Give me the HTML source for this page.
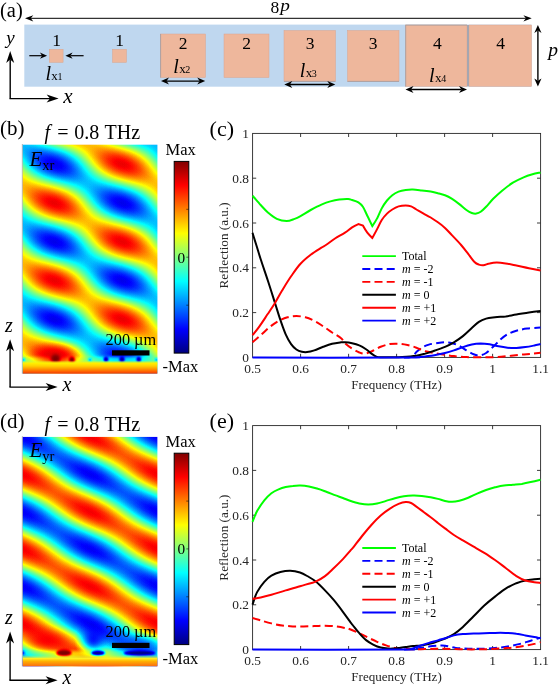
<!DOCTYPE html><html><head><meta charset="utf-8"><title>Figure</title><style>html,body{margin:0;padding:0;background:#fff;overflow:hidden}svg{display:block}</style></head><body><svg width="560" height="685" viewBox="0 0 560 685" font-family='"Liberation Serif","Times New Roman",serif'><rect x="24.3" y="24.6" width="507.2" height="62.1" fill="#bfd7ef"/>
<rect x="49.3" y="49.3" width="13.8" height="13.1" fill="#eeb79c" stroke="#d9a58f" stroke-width="0.5"/>
<rect x="112.5" y="49.3" width="14.0" height="13.1" fill="#eeb79c" stroke="#d9a58f" stroke-width="0.5"/>
<rect x="160.5" y="34.0" width="45.0" height="43.5" fill="#eeb79c" stroke="#d9a58f" stroke-width="0.5"/>
<rect x="224.0" y="34.0" width="45.0" height="43.5" fill="#eeb79c" stroke="#d9a58f" stroke-width="0.5"/>
<rect x="284.0" y="30.5" width="51.5" height="51.0" fill="#eeb79c" stroke="#d9a58f" stroke-width="0.5"/>
<rect x="347.5" y="30.5" width="51.5" height="51.0" fill="#eeb79c" stroke="#d9a58f" stroke-width="0.5"/>
<rect x="405.5" y="25.0" width="61.5" height="61.3" fill="#eeb79c" stroke="#d9a58f" stroke-width="0.5"/>
<rect x="469.0" y="25.0" width="62.5" height="61.3" fill="#eeb79c" stroke="#d9a58f" stroke-width="0.5"/>
<path d="M160.6 34v43.5M284 81.4h51.5M347.5 81.4h51.5M405.7 86.3V25.1h61.3" stroke="#9a9aa0" stroke-width="0.7" fill="none"/><path d="M468 25v61.3" stroke="#a2a2ac" stroke-width="1.8"/>
<text x="56.50" y="46.40" font-size="17.50" text-anchor="middle" fill="#000">1</text>
<text x="119.50" y="46.40" font-size="17.50" text-anchor="middle" fill="#000">1</text>
<text x="183.00" y="49.30" font-size="17.50" text-anchor="middle" fill="#000">2</text>
<text x="246.50" y="49.30" font-size="17.50" text-anchor="middle" fill="#000">2</text>
<text x="310.00" y="49.30" font-size="17.50" text-anchor="middle" fill="#000">3</text>
<text x="373.00" y="49.30" font-size="17.50" text-anchor="middle" fill="#000">3</text>
<text x="437.40" y="49.30" font-size="17.50" text-anchor="middle" fill="#000">4</text>
<text x="500.60" y="49.30" font-size="17.50" text-anchor="middle" fill="#000">4</text>
<line x1="30.80" y1="18.30" x2="525.90" y2="18.30" stroke="#000" stroke-width="1.00"/><path d="M531.70 18.30L523.40 15.20L525.90 18.30L523.40 21.40Z" fill="#000"/><path d="M25.00 18.30L33.30 21.40L30.80 18.30L33.30 15.20Z" fill="#000"/>
<text x="270.60" y="13.20" font-size="17.50" text-anchor="start" fill="#000">8</text>
<text x="280.30" y="11.00" font-size="17.30" text-anchor="start" font-style="italic" fill="#000" textLength="9.6" lengthAdjust="spacingAndGlyphs">p</text>
<line x1="537.90" y1="30.60" x2="537.90" y2="80.80" stroke="#000" stroke-width="1.40"/><path d="M537.90 86.40L541.50 78.40L537.90 80.80L534.30 78.40Z" fill="#000"/><path d="M537.90 25.00L534.30 33.00L537.90 30.60L541.50 33.00Z" fill="#000"/>
<text x="548.30" y="56.00" font-size="19.50" text-anchor="start" font-style="italic" fill="#000">p</text>
<line x1="29.30" y1="55.70" x2="42.10" y2="55.70" stroke="#000" stroke-width="1.20"/><path d="M47.10 55.70L39.90 52.60L42.10 55.70L39.90 58.80Z" fill="#000"/>
<line x1="83.60" y1="55.70" x2="70.40" y2="55.70" stroke="#000" stroke-width="1.20"/><path d="M65.40 55.70L72.60 58.80L70.40 55.70L72.60 52.60Z" fill="#000"/>
<line x1="166.60" y1="81.10" x2="199.60" y2="81.10" stroke="#000" stroke-width="1.30"/><path d="M205.20 81.10L197.20 77.60L199.60 81.10L197.20 84.60Z" fill="#000"/><path d="M161.00 81.10L169.00 84.60L166.60 81.10L169.00 77.60Z" fill="#000"/>
<line x1="289.90" y1="84.50" x2="329.70" y2="84.50" stroke="#000" stroke-width="1.30"/><path d="M335.30 84.50L327.30 81.00L329.70 84.50L327.30 88.00Z" fill="#000"/><path d="M284.30 84.50L292.30 88.00L289.90 84.50L292.30 81.00Z" fill="#000"/>
<line x1="411.10" y1="89.50" x2="461.40" y2="89.50" stroke="#000" stroke-width="1.30"/><path d="M467.00 89.50L459.00 86.00L461.40 89.50L459.00 93.00Z" fill="#000"/><path d="M405.50 89.50L413.50 93.00L411.10 89.50L413.50 86.00Z" fill="#000"/>
<text x="45.5" y="80.0" font-size="20"><tspan font-style="italic">l</tspan><tspan font-size="13" dx="0.3">x</tspan><tspan font-size="10" dx="-0.3">1</tspan></text>
<text x="173.3" y="72.9" font-size="20"><tspan font-style="italic">l</tspan><tspan font-size="13" dx="0.3">x</tspan><tspan font-size="10" dx="-0.3">2</tspan></text>
<text x="299.8" y="77.0" font-size="20"><tspan font-style="italic">l</tspan><tspan font-size="13" dx="0.3">x</tspan><tspan font-size="10" dx="-0.3">3</tspan></text>
<text x="429.1" y="81.9" font-size="20"><tspan font-style="italic">l</tspan><tspan font-size="13" dx="0.3">x</tspan><tspan font-size="10" dx="-0.3">4</tspan></text>
<text x="6.20" y="44.00" font-size="19.00" text-anchor="start" font-style="italic" fill="#000">y</text>
<line x1="10.20" y1="98.60" x2="10.20" y2="59.60" stroke="#000" stroke-width="1.40"/><path d="M10.20 51.00L6.20 63.00L10.20 59.60L14.20 63.00Z" fill="#000"/>
<line x1="9.50" y1="98.60" x2="50.00" y2="98.60" stroke="#000" stroke-width="1.40"/><path d="M58.60 98.60L46.60 94.60L50.00 98.60L46.60 102.60Z" fill="#000"/>
<text x="63.30" y="102.90" font-size="21.00" text-anchor="start" font-style="italic" fill="#000">x</text>
<text x="0.00" y="17.30" font-size="20.50" text-anchor="start" fill="#000">(a)</text>
<defs>
<filter id="jet" x="0" y="0" width="1" height="1" color-interpolation-filters="sRGB"><feComponentTransfer><feFuncR type="table" tableValues="0 0 0 0 .5 1 1 1 .5"/><feFuncG type="table" tableValues="0 0 .5 1 1 1 .5 0 0"/><feFuncB type="table" tableValues=".5 1 1 1 .5 0 0 0 0"/></feComponentTransfer></filter>
<filter id="bl2" x="-50%" y="-50%" width="200%" height="200%"><feGaussianBlur stdDeviation="1.6"/></filter>
<filter id="bl1" x="-50%" y="-50%" width="200%" height="200%"><feGaussianBlur stdDeviation="0.9"/></filter>
<filter id="bl4" x="-50%" y="-50%" width="200%" height="200%"><feGaussianBlur stdDeviation="4"/></filter>
<linearGradient id="wb1" gradientUnits="userSpaceOnUse" x1="-7.245" y1="12.698" x2="26.158" y2="-45.843" spreadMethod="repeat"><stop offset="0.0000" stop-color="#e4e4e4"/><stop offset="0.0417" stop-color="#e1e1e1"/><stop offset="0.0833" stop-color="#d7d7d7"/><stop offset="0.1250" stop-color="#c7c7c7"/><stop offset="0.1667" stop-color="#b2b2b2"/><stop offset="0.2083" stop-color="#9a9a9a"/><stop offset="0.2500" stop-color="#808080"/><stop offset="0.2917" stop-color="#656565"/><stop offset="0.3333" stop-color="#4d4d4d"/><stop offset="0.3750" stop-color="#383838"/><stop offset="0.4167" stop-color="#282828"/><stop offset="0.4583" stop-color="#1e1e1e"/><stop offset="0.5000" stop-color="#1b1b1b"/><stop offset="0.5417" stop-color="#1e1e1e"/><stop offset="0.5833" stop-color="#282828"/><stop offset="0.6250" stop-color="#383838"/><stop offset="0.6667" stop-color="#4d4d4d"/><stop offset="0.7083" stop-color="#656565"/><stop offset="0.7500" stop-color="#7f7f7f"/><stop offset="0.7917" stop-color="#9a9a9a"/><stop offset="0.8333" stop-color="#b2b2b2"/><stop offset="0.8750" stop-color="#c7c7c7"/><stop offset="0.9167" stop-color="#d7d7d7"/><stop offset="0.9583" stop-color="#e1e1e1"/><stop offset="1.0000" stop-color="#e4e4e4"/></linearGradient>
<linearGradient id="wb2" gradientUnits="userSpaceOnUse" x1="0.418" y1="0.732" x2="-32.985" y2="-57.809" spreadMethod="repeat"><stop offset="0.0000" stop-color="#e4e4e4"/><stop offset="0.0417" stop-color="#e1e1e1"/><stop offset="0.0833" stop-color="#d7d7d7"/><stop offset="0.1250" stop-color="#c7c7c7"/><stop offset="0.1667" stop-color="#b2b2b2"/><stop offset="0.2083" stop-color="#9a9a9a"/><stop offset="0.2500" stop-color="#808080"/><stop offset="0.2917" stop-color="#656565"/><stop offset="0.3333" stop-color="#4d4d4d"/><stop offset="0.3750" stop-color="#383838"/><stop offset="0.4167" stop-color="#282828"/><stop offset="0.4583" stop-color="#1e1e1e"/><stop offset="0.5000" stop-color="#1b1b1b"/><stop offset="0.5417" stop-color="#1e1e1e"/><stop offset="0.5833" stop-color="#282828"/><stop offset="0.6250" stop-color="#383838"/><stop offset="0.6667" stop-color="#4d4d4d"/><stop offset="0.7083" stop-color="#656565"/><stop offset="0.7500" stop-color="#7f7f7f"/><stop offset="0.7917" stop-color="#9a9a9a"/><stop offset="0.8333" stop-color="#b2b2b2"/><stop offset="0.8750" stop-color="#c7c7c7"/><stop offset="0.9167" stop-color="#d7d7d7"/><stop offset="0.9583" stop-color="#e1e1e1"/><stop offset="1.0000" stop-color="#e4e4e4"/></linearGradient>
<linearGradient id="wd1" gradientUnits="userSpaceOnUse" x1="-5.891" y1="10.726" x2="25.629" y2="-46.661" spreadMethod="repeat"><stop offset="0.0000" stop-color="#e2e2e2"/><stop offset="0.0417" stop-color="#dedede"/><stop offset="0.0833" stop-color="#d5d5d5"/><stop offset="0.1250" stop-color="#c5c5c5"/><stop offset="0.1667" stop-color="#b1b1b1"/><stop offset="0.2083" stop-color="#999999"/><stop offset="0.2500" stop-color="#808080"/><stop offset="0.2917" stop-color="#666666"/><stop offset="0.3333" stop-color="#4e4e4e"/><stop offset="0.3750" stop-color="#3a3a3a"/><stop offset="0.4167" stop-color="#2a2a2a"/><stop offset="0.4583" stop-color="#212121"/><stop offset="0.5000" stop-color="#1d1d1d"/><stop offset="0.5417" stop-color="#212121"/><stop offset="0.5833" stop-color="#2a2a2a"/><stop offset="0.6250" stop-color="#3a3a3a"/><stop offset="0.6667" stop-color="#4e4e4e"/><stop offset="0.7083" stop-color="#666666"/><stop offset="0.7500" stop-color="#7f7f7f"/><stop offset="0.7917" stop-color="#999999"/><stop offset="0.8333" stop-color="#b1b1b1"/><stop offset="0.8750" stop-color="#c5c5c5"/><stop offset="0.9167" stop-color="#d5d5d5"/><stop offset="0.9583" stop-color="#dedede"/><stop offset="1.0000" stop-color="#e2e2e2"/></linearGradient>
<linearGradient id="wd2" gradientUnits="userSpaceOnUse" x1="16.091" y1="29.296" x2="-15.429" y2="-28.091" spreadMethod="repeat"><stop offset="0.0000" stop-color="#e2e2e2"/><stop offset="0.0417" stop-color="#dedede"/><stop offset="0.0833" stop-color="#d5d5d5"/><stop offset="0.1250" stop-color="#c5c5c5"/><stop offset="0.1667" stop-color="#b1b1b1"/><stop offset="0.2083" stop-color="#999999"/><stop offset="0.2500" stop-color="#808080"/><stop offset="0.2917" stop-color="#666666"/><stop offset="0.3333" stop-color="#4e4e4e"/><stop offset="0.3750" stop-color="#3a3a3a"/><stop offset="0.4167" stop-color="#2a2a2a"/><stop offset="0.4583" stop-color="#212121"/><stop offset="0.5000" stop-color="#1d1d1d"/><stop offset="0.5417" stop-color="#212121"/><stop offset="0.5833" stop-color="#2a2a2a"/><stop offset="0.6250" stop-color="#3a3a3a"/><stop offset="0.6667" stop-color="#4e4e4e"/><stop offset="0.7083" stop-color="#666666"/><stop offset="0.7500" stop-color="#7f7f7f"/><stop offset="0.7917" stop-color="#999999"/><stop offset="0.8333" stop-color="#b1b1b1"/><stop offset="0.8750" stop-color="#c5c5c5"/><stop offset="0.9167" stop-color="#d5d5d5"/><stop offset="0.9583" stop-color="#dedede"/><stop offset="1.0000" stop-color="#e2e2e2"/></linearGradient>
<linearGradient id="cb" x1="0" y1="0" x2="0" y2="1"><stop offset="0" stop-color="#800000"/><stop offset=".125" stop-color="#ff0000"/><stop offset=".375" stop-color="#ffff00"/><stop offset=".625" stop-color="#00ffff"/><stop offset=".875" stop-color="#0000ff"/><stop offset="1" stop-color="#000080"/></linearGradient>
<linearGradient id="band" x1="0" y1="0" x2="0" y2="1"><stop offset="0" stop-color="#d0f040" stop-opacity="0"/><stop offset=".2" stop-color="#fff200"/><stop offset=".42" stop-color="#ffd000"/><stop offset=".6" stop-color="#ffa000"/><stop offset=".85" stop-color="#ff5a00"/><stop offset="1" stop-color="#e03510"/></linearGradient>
<linearGradient id="bandd" x1="0" y1="0" x2="0" y2="1"><stop offset="0" stop-color="#c8f040" stop-opacity="0"/><stop offset=".3" stop-color="#fff020"/><stop offset=".55" stop-color="#ffb000"/><stop offset=".93" stop-color="#fa7410"/><stop offset="1" stop-color="#e85010"/></linearGradient>
<radialGradient id="rgR"><stop offset="0.0" stop-color="#e6e6e6" stop-opacity="1.000"/><stop offset="0.1" stop-color="#e6e6e6" stop-opacity="0.974"/><stop offset="0.2" stop-color="#e6e6e6" stop-opacity="0.899"/><stop offset="0.3" stop-color="#e6e6e6" stop-opacity="0.785"/><stop offset="0.4" stop-color="#e6e6e6" stop-opacity="0.648"/><stop offset="0.5" stop-color="#e6e6e6" stop-opacity="0.502"/><stop offset="0.6" stop-color="#e6e6e6" stop-opacity="0.362"/><stop offset="0.7" stop-color="#e6e6e6" stop-opacity="0.238"/><stop offset="0.8" stop-color="#e6e6e6" stop-opacity="0.136"/><stop offset="0.9" stop-color="#e6e6e6" stop-opacity="0.057"/><stop offset="1.0" stop-color="#e6e6e6" stop-opacity="0.000"/></radialGradient>
<radialGradient id="rgB"><stop offset="0.0" stop-color="#1a1a1a" stop-opacity="1.000"/><stop offset="0.1" stop-color="#1a1a1a" stop-opacity="0.974"/><stop offset="0.2" stop-color="#1a1a1a" stop-opacity="0.899"/><stop offset="0.3" stop-color="#1a1a1a" stop-opacity="0.785"/><stop offset="0.4" stop-color="#1a1a1a" stop-opacity="0.648"/><stop offset="0.5" stop-color="#1a1a1a" stop-opacity="0.502"/><stop offset="0.6" stop-color="#1a1a1a" stop-opacity="0.362"/><stop offset="0.7" stop-color="#1a1a1a" stop-opacity="0.238"/><stop offset="0.8" stop-color="#1a1a1a" stop-opacity="0.136"/><stop offset="0.9" stop-color="#1a1a1a" stop-opacity="0.057"/><stop offset="1.0" stop-color="#1a1a1a" stop-opacity="0.000"/></radialGradient>
<radialGradient id="rgB2"><stop offset="0.0" stop-color="#333333" stop-opacity="1.000"/><stop offset="0.1" stop-color="#333333" stop-opacity="0.974"/><stop offset="0.2" stop-color="#333333" stop-opacity="0.899"/><stop offset="0.3" stop-color="#333333" stop-opacity="0.785"/><stop offset="0.4" stop-color="#333333" stop-opacity="0.648"/><stop offset="0.5" stop-color="#333333" stop-opacity="0.502"/><stop offset="0.6" stop-color="#333333" stop-opacity="0.362"/><stop offset="0.7" stop-color="#333333" stop-opacity="0.238"/><stop offset="0.8" stop-color="#333333" stop-opacity="0.136"/><stop offset="0.9" stop-color="#333333" stop-opacity="0.057"/><stop offset="1.0" stop-color="#333333" stop-opacity="0.000"/></radialGradient>
<clipPath id="cpb"><rect x="22.7" y="144.5" width="134.9" height="229.3"/></clipPath>
<clipPath id="cpd"><rect x="22.7" y="436.7" width="134.9" height="229.8"/></clipPath>
</defs>
<path d="M22.35 144v229.7M22.35 436.2v230.2" stroke="#a9a9a9" stroke-width="0.9"/>
<g clip-path="url(#cpb)"><g filter="url(#jet)">
<rect x="22.3" y="144.5" width="135.3" height="229.0" fill="url(#wb1)"/>
<rect x="22.3" y="144.5" width="135.3" height="229.0" fill="url(#wb2)" opacity="0.260"/>
<rect x="12" y="357" width="156" height="8" fill="#808080" opacity="0.6" filter="url(#bl2)"/>
<ellipse cx="56" cy="355" rx="31" ry="15" fill="url(#rgR)" opacity="0.95"/>
<ellipse cx="55.5" cy="358.8" rx="4.6" ry="4.2" fill="#ffffff" filter="url(#bl2)"/>
<ellipse cx="71.9" cy="359.8" rx="2.8" ry="3.1" fill="#ffffff" filter="url(#bl1)"/>
<ellipse cx="106.0" cy="359.3" rx="2.2" ry="2.6" fill="#050505" filter="url(#bl1)"/>
<ellipse cx="122.0" cy="359.3" rx="2.4" ry="2.6" fill="#050505" filter="url(#bl1)"/>
<ellipse cx="138.8" cy="359.3" rx="2.2" ry="2.6" fill="#050505" filter="url(#bl1)"/>
<ellipse cx="90.0" cy="360" rx="1.2" ry="1.4" fill="#1f1f1f" filter="url(#bl1)"/>
<ellipse cx="23.5" cy="360" rx="1.2" ry="1.4" fill="#1f1f1f" filter="url(#bl1)"/>
<ellipse cx="156.4" cy="360" rx="1.2" ry="1.4" fill="#1f1f1f" filter="url(#bl1)"/>
</g>
<rect x="22.3" y="360.3" width="135.3" height="13.6" fill="url(#band)"/>
</g>
<g clip-path="url(#cpd)"><g filter="url(#jet)">
<rect x="22.3" y="436.7" width="135.3" height="229.8" fill="url(#wd1)"/>
<rect x="22.3" y="436.7" width="135.3" height="229.8" fill="url(#wd2)" opacity="0.120"/>
<ellipse cx="46" cy="641" rx="38" ry="18" fill="url(#rgR)" opacity="0.8"/>
<ellipse cx="93" cy="640" rx="19" ry="20" fill="url(#rgB)" opacity="0.85"/>
<ellipse cx="140" cy="644" rx="34" ry="13" fill="url(#rgB2)" opacity="0.75"/>
<rect x="12" y="651" width="156" height="8" fill="#808080" opacity="0.5" filter="url(#bl2)"/>
<ellipse cx="63.9" cy="652.9" rx="7.6" ry="3.3" fill="#ffffff" filter="url(#bl1)"/>
<ellipse cx="98" cy="652.9" rx="7" ry="2.5" fill="#000000" filter="url(#bl1)"/>
<ellipse cx="139.6" cy="652.9" rx="16" ry="2.5" fill="#000000" filter="url(#bl1)"/>
<ellipse cx="22.5" cy="652.9" rx="2" ry="2" fill="#1a1a1a" filter="url(#bl1)"/>
</g>
<rect x="22.3" y="655.0" width="135.3" height="11.5" fill="url(#bandd)"/>
</g>
<rect x="112" y="350.3" width="37.5" height="5.2" fill="#000"/>
<text x="105.60" y="344.70" font-size="16.30" text-anchor="start" fill="#000">200 µm</text>
<text x="29.5" y="165.8" font-size="21"><tspan font-style="italic">E</tspan><tspan font-size="14.5" dy="4.1">xr</tspan></text>
<rect x="174.2" y="161.4" width="14.6" height="191.7" fill="url(#cb)" stroke="#000" stroke-width="1"/>
<line x1="186.3" x2="188.8" y1="209.3" y2="209.3" stroke="#111" stroke-width="0.6"/>
<line x1="186.3" x2="188.8" y1="257.2" y2="257.2" stroke="#111" stroke-width="0.6"/>
<line x1="186.3" x2="188.8" y1="305.2" y2="305.2" stroke="#111" stroke-width="0.6"/>
<text x="177.60" y="262.55" font-size="15.30" text-anchor="start" fill="#000">0</text>
<text x="165.60" y="154.80" font-size="16.50" text-anchor="start" fill="#000">Max</text>
<text x="162.60" y="371.80" font-size="16.50" text-anchor="start" fill="#000">-Max</text>
<text x="0.00" y="135.20" font-size="21.00" text-anchor="start" fill="#000">(b)</text>
<text y="138.6" font-size="20"><tspan x="44.6" font-style="italic">f</tspan><tspan x="57.2" word-spacing="0.7">= 0.8 THz</tspan></text>
<text x="5.00" y="331.70" font-size="20.00" text-anchor="start" font-style="italic" fill="#000">z</text>
<line x1="10.10" y1="387.10" x2="10.10" y2="347.90" stroke="#000" stroke-width="1.40"/><path d="M10.10 339.30L6.10 351.30L10.10 347.90L14.10 351.30Z" fill="#000"/>
<line x1="9.40" y1="387.10" x2="49.00" y2="387.10" stroke="#000" stroke-width="1.40"/><path d="M57.60 387.10L45.60 383.10L49.00 387.10L45.60 391.10Z" fill="#000"/>
<text x="62.60" y="391.40" font-size="20.00" text-anchor="start" font-style="italic" fill="#000">x</text>
<rect x="112" y="642.8" width="37.5" height="5.2" fill="#000"/>
<text x="105.60" y="637.40" font-size="16.30" text-anchor="start" fill="#000">200 µm</text>
<text x="29.5" y="456.7" font-size="21"><tspan font-style="italic">E</tspan><tspan font-size="14.5" dy="4.1">yr</tspan></text>
<rect x="174.2" y="453.2" width="14.6" height="191.4" fill="url(#cb)" stroke="#000" stroke-width="1"/>
<line x1="186.3" x2="188.8" y1="501.1" y2="501.1" stroke="#111" stroke-width="0.6"/>
<line x1="186.3" x2="188.8" y1="548.9" y2="548.9" stroke="#111" stroke-width="0.6"/>
<line x1="186.3" x2="188.8" y1="596.8" y2="596.8" stroke="#111" stroke-width="0.6"/>
<text x="177.60" y="554.20" font-size="15.30" text-anchor="start" fill="#000">0</text>
<text x="165.60" y="447.10" font-size="16.50" text-anchor="start" fill="#000">Max</text>
<text x="162.60" y="664.30" font-size="16.50" text-anchor="start" fill="#000">-Max</text>
<text x="0.00" y="427.60" font-size="21.00" text-anchor="start" fill="#000">(d)</text>
<text y="430.8" font-size="20"><tspan x="44.6" font-style="italic">f</tspan><tspan x="57.2" word-spacing="0.7">= 0.8 THz</tspan></text>
<text x="5.00" y="624.30" font-size="20.00" text-anchor="start" font-style="italic" fill="#000">z</text>
<line x1="10.10" y1="680.30" x2="10.10" y2="640.00" stroke="#000" stroke-width="1.40"/><path d="M10.10 631.40L6.10 643.40L10.10 640.00L14.10 643.40Z" fill="#000"/>
<line x1="9.40" y1="680.30" x2="49.00" y2="680.30" stroke="#000" stroke-width="1.40"/><path d="M57.60 680.30L45.60 676.30L49.00 680.30L45.60 684.30Z" fill="#000"/>
<text x="62.60" y="683.60" font-size="20.00" text-anchor="start" font-style="italic" fill="#000">x</text>
<rect x="252.6" y="133.4" width="288.0" height="224.0" fill="none" stroke="#262626" stroke-width="0.9"/>
<text x="252.60" y="372.80" font-size="13.40" text-anchor="middle" fill="#262626">0.5</text>
<path d="M300.6 357.4v-3.6M300.6 133.4v3.6" stroke="#262626" stroke-width="0.9"/>
<text x="300.60" y="372.80" font-size="13.40" text-anchor="middle" fill="#262626">0.6</text>
<path d="M348.6 357.4v-3.6M348.6 133.4v3.6" stroke="#262626" stroke-width="0.9"/>
<text x="348.60" y="372.80" font-size="13.40" text-anchor="middle" fill="#262626">0.7</text>
<path d="M396.6 357.4v-3.6M396.6 133.4v3.6" stroke="#262626" stroke-width="0.9"/>
<text x="396.60" y="372.80" font-size="13.40" text-anchor="middle" fill="#262626">0.8</text>
<path d="M444.6 357.4v-3.6M444.6 133.4v3.6" stroke="#262626" stroke-width="0.9"/>
<text x="444.60" y="372.80" font-size="13.40" text-anchor="middle" fill="#262626">0.9</text>
<path d="M492.6 357.4v-3.6M492.6 133.4v3.6" stroke="#262626" stroke-width="0.9"/>
<text x="492.60" y="372.80" font-size="13.40" text-anchor="middle" fill="#262626">1</text>
<text x="540.60" y="372.80" font-size="13.40" text-anchor="middle" fill="#262626">1.1</text>
<text x="249.00" y="361.90" font-size="13.40" text-anchor="end" fill="#262626">0</text>
<path d="M252.6 312.6h3.6M540.6 312.6h-3.6" stroke="#262626" stroke-width="0.9"/>
<text x="249.00" y="317.10" font-size="13.40" text-anchor="end" fill="#262626">0.2</text>
<path d="M252.6 267.8h3.6M540.6 267.8h-3.6" stroke="#262626" stroke-width="0.9"/>
<text x="249.00" y="272.30" font-size="13.40" text-anchor="end" fill="#262626">0.4</text>
<path d="M252.6 223.0h3.6M540.6 223.0h-3.6" stroke="#262626" stroke-width="0.9"/>
<text x="249.00" y="227.50" font-size="13.40" text-anchor="end" fill="#262626">0.6</text>
<path d="M252.6 178.2h3.6M540.6 178.2h-3.6" stroke="#262626" stroke-width="0.9"/>
<text x="249.00" y="182.70" font-size="13.40" text-anchor="end" fill="#262626">0.8</text>
<text x="249.00" y="137.90" font-size="13.40" text-anchor="end" fill="#262626">1</text>
<path d="M252.5 195.7C253.9 197.2 258.1 202.2 260.7 205.0C263.3 207.8 265.2 210.2 267.9 212.5C270.6 214.8 273.7 217.5 276.8 218.9C279.9 220.3 283.6 221.1 286.6 221.1C289.6 221.1 292.3 219.7 294.6 218.9C296.9 218.1 297.8 217.6 300.5 216.1C303.2 214.6 307.2 211.9 310.7 210.0C314.2 208.1 318.1 206.0 321.4 204.6C324.7 203.2 327.4 202.2 330.4 201.4C333.4 200.6 336.3 200.0 339.3 199.6C342.3 199.2 346.1 199.0 348.2 199.1C350.3 199.2 350.4 199.5 352.1 200.0C353.8 200.5 356.6 201.2 358.4 202.3C360.2 203.4 361.4 204.6 362.9 206.8C364.4 209.0 365.7 212.5 367.3 215.7C368.9 218.9 372.3 226.1 372.3 226.1C372.3 226.1 375.6 221.3 377.1 218.4C378.7 215.5 380.0 211.6 381.6 208.6C383.2 205.6 385.2 202.7 387.0 200.5C388.8 198.3 390.4 196.7 392.3 195.2C394.2 193.7 396.4 192.5 398.6 191.6C400.8 190.7 403.3 190.3 405.7 190.0C408.1 189.7 410.2 189.5 412.9 189.6C415.6 189.7 418.8 190.1 421.8 190.4C424.8 190.7 428.0 191.1 430.7 191.6C433.4 192.1 435.5 192.6 437.9 193.2C440.3 193.8 442.6 194.3 445.0 195.2C447.4 196.1 449.7 197.3 452.1 198.8C454.5 200.3 456.9 202.2 459.3 204.1C461.7 206.0 464.3 208.5 466.4 210.0C468.5 211.5 470.1 212.4 471.8 213.0C473.5 213.6 474.8 213.8 476.3 213.6C477.8 213.4 479.1 212.9 480.7 211.8C482.3 210.7 484.0 209.0 486.1 206.8C488.2 204.6 490.5 201.5 493.2 198.8C495.9 196.1 498.8 193.4 502.1 190.7C505.4 188.0 509.3 184.9 512.9 182.7C516.5 180.5 520.3 178.7 523.6 177.3C526.9 175.9 529.7 175.1 532.5 174.3C535.3 173.5 539.2 172.8 540.5 172.5" fill="none" stroke="#00ff00" stroke-width="2" stroke-linejoin="miter"/>
<path d="M404.0 357.6C404.8 357.6 407.5 357.6 409.0 357.4C410.5 357.2 411.7 357.2 412.9 356.3C414.1 355.4 414.9 353.5 416.4 352.1C417.9 350.7 419.7 348.9 421.8 347.7C423.9 346.4 426.2 345.4 428.9 344.6C431.6 343.8 435.2 343.3 437.9 342.9C440.6 342.5 442.6 342.2 445.0 342.3C447.4 342.4 449.7 342.6 452.1 343.2C454.5 343.8 456.9 344.7 459.3 345.9C461.7 347.1 464.0 349.0 466.4 350.4C468.8 351.8 471.4 353.5 473.6 354.3C475.8 355.1 477.7 355.6 479.8 355.4C481.9 355.2 483.9 354.4 486.1 353.0C488.3 351.6 490.8 349.0 493.2 346.8C495.6 344.6 498.0 341.7 500.4 339.6C502.8 337.5 504.8 335.8 507.5 334.3C510.2 332.8 513.1 331.6 516.4 330.7C519.7 329.8 523.1 329.1 527.1 328.6C531.1 328.1 538.3 327.7 540.5 327.5" fill="none" stroke="#0000ff" stroke-width="2" stroke-linejoin="miter" stroke-dasharray="8 4.2"/>
<path d="M252.5 342.3C253.9 341.1 257.8 337.7 260.7 335.2C263.6 332.7 266.6 329.5 269.6 327.1C272.6 324.7 275.6 322.5 278.6 320.9C281.6 319.3 284.5 318.1 287.5 317.3C290.5 316.5 293.4 316.1 296.4 316.1C299.4 316.1 302.4 316.5 305.4 317.3C308.4 318.1 311.3 319.4 314.3 320.9C317.3 322.4 320.2 324.4 323.2 326.3C326.2 328.2 329.1 330.5 332.1 332.5C335.1 334.5 339.0 336.4 341.1 338.2C343.2 340.0 343.2 341.5 345.0 343.2C346.8 344.9 349.7 347.1 352.1 348.6C354.5 350.2 357.2 351.7 359.3 352.5C361.4 353.3 362.5 353.8 364.6 353.6C366.7 353.4 369.1 352.4 371.8 351.3C374.5 350.2 377.7 348.0 380.7 346.8C383.7 345.6 386.6 344.6 389.6 344.1C392.6 343.6 395.6 343.7 398.6 343.8C401.6 343.9 404.5 344.4 407.5 345.0C410.5 345.6 413.4 346.6 416.4 347.7C419.4 348.8 422.4 350.4 425.4 351.3C428.4 352.2 431.0 352.4 434.3 353.0C437.6 353.6 441.7 354.3 445.0 354.8C448.3 355.3 450.3 355.7 453.9 356.1C457.5 356.5 461.9 356.9 466.4 357.1C470.9 357.3 475.9 357.3 480.7 357.3C485.5 357.3 490.5 357.3 495.0 357.1C499.5 356.9 503.3 356.5 507.5 356.1C511.7 355.7 516.1 355.2 520.0 354.8C523.9 354.4 527.3 354.2 530.7 353.9C534.1 353.5 538.9 352.9 540.5 352.7" fill="none" stroke="#ff0000" stroke-width="2" stroke-linejoin="miter" stroke-dasharray="8 4.2"/>
<path d="M252.5 232.7C253.1 234.8 254.9 240.6 256.3 245.0C257.7 249.4 258.8 253.4 260.7 259.3C262.6 265.2 265.5 273.4 267.9 280.7C270.3 288.0 272.9 296.4 275.0 303.0C277.1 309.6 278.6 314.8 280.4 320.0C282.2 325.2 283.9 330.3 285.7 334.3C287.5 338.3 289.3 341.6 291.1 344.1C292.9 346.6 294.6 348.2 296.4 349.5C298.2 350.8 300.0 351.4 301.8 351.8C303.6 352.2 305.0 352.3 307.1 352.1C309.2 351.9 311.6 351.3 314.3 350.4C317.0 349.5 320.2 347.9 323.2 346.8C326.2 345.7 329.1 344.6 332.1 343.8C335.1 343.1 339.0 342.6 341.1 342.3C343.2 342.1 343.2 342.2 345.0 342.3C346.8 342.4 349.7 342.7 352.1 343.2C354.5 343.7 356.9 344.3 359.3 345.4C361.7 346.4 364.3 348.1 366.4 349.5C368.5 350.9 370.1 352.7 371.8 353.9C373.5 355.1 374.8 356.0 376.3 356.6C377.8 357.2 378.4 357.2 380.7 357.3C383.0 357.4 386.4 357.3 390.0 357.3C393.6 357.3 397.7 357.4 402.1 357.1C406.5 356.8 412.5 356.3 416.4 355.7C420.3 355.1 422.4 354.4 425.4 353.6C428.4 352.8 431.0 351.8 434.3 350.7C437.6 349.6 441.7 348.2 445.0 346.8C448.3 345.4 450.9 344.1 453.9 342.3C456.9 340.5 459.9 338.5 462.9 336.1C465.9 333.7 469.1 330.4 471.8 328.0C474.5 325.6 476.5 323.4 478.9 321.8C481.3 320.2 483.4 319.4 486.1 318.6C488.8 317.9 491.7 317.7 495.0 317.3C498.3 316.9 502.1 316.8 505.7 316.4C509.3 315.9 512.5 315.2 516.4 314.6C520.3 314.0 524.9 313.1 528.9 312.5C532.9 311.9 538.6 311.3 540.5 311.1" fill="none" stroke="#000000" stroke-width="2" stroke-linejoin="miter"/>
<path d="M252.5 335.2C253.6 333.9 256.3 330.7 258.9 327.1C261.5 323.5 265.2 317.8 267.9 313.8C270.6 309.8 272.6 306.9 275.0 303.0C277.4 299.1 279.4 294.9 282.1 290.5C284.8 286.1 288.0 280.8 291.1 276.3C294.2 271.9 297.2 267.4 300.5 263.8C303.8 260.2 307.2 257.5 310.7 254.8C314.2 252.1 318.9 249.3 321.4 247.7C323.9 246.1 323.6 246.5 325.9 245.0C328.2 243.5 331.8 240.6 335.0 238.5C338.2 236.4 342.1 234.6 345.0 232.7C347.9 230.8 349.9 228.7 352.1 227.3C354.3 225.9 358.4 224.1 358.4 224.1C358.4 224.1 362.9 225.5 362.9 225.5C362.9 225.5 365.7 230.6 367.3 232.7C368.9 234.8 372.3 237.9 372.3 237.9C372.3 237.9 375.6 232.1 377.1 229.1C378.7 226.1 380.0 222.8 381.6 220.2C383.2 217.6 385.2 215.4 387.0 213.6C388.8 211.8 390.4 210.7 392.3 209.5C394.2 208.3 396.4 207.1 398.6 206.4C400.8 205.7 403.6 205.4 405.7 205.4C407.8 205.4 409.3 205.7 411.1 206.4C412.9 207.1 414.3 208.3 416.4 209.5C418.5 210.7 421.2 212.3 423.6 213.6C426.0 214.9 428.3 216.1 430.7 217.5C433.1 218.9 435.5 220.6 437.9 222.3C440.3 224.0 442.6 225.7 445.0 227.9C447.4 230.1 449.4 232.6 452.1 235.4C454.8 238.2 458.4 241.9 461.1 245.0C463.8 248.1 466.0 251.1 468.2 253.9C470.4 256.7 472.7 260.2 474.5 262.0C476.3 263.8 477.4 264.1 478.9 264.6C480.4 265.1 481.6 265.4 483.4 265.2C485.2 265.0 487.4 263.8 489.6 263.4C491.8 262.9 494.1 262.5 496.8 262.5C499.5 262.5 502.4 262.9 505.7 263.4C509.0 263.9 512.5 264.7 516.4 265.5C520.3 266.3 524.9 267.4 528.9 268.2C532.9 269.0 538.6 270.1 540.5 270.5" fill="none" stroke="#ff0000" stroke-width="2" stroke-linejoin="miter"/>
<path d="M252.5 357.6C277.9 357.6 377.8 357.7 405.0 357.6C432.2 357.6 412.6 357.5 416.0 357.3C419.4 357.1 422.3 356.8 425.4 356.4C428.4 356.0 431.0 355.8 434.3 355.2C437.6 354.6 441.7 353.8 445.0 353.0C448.3 352.2 450.9 351.4 453.9 350.4C456.9 349.4 459.9 348.1 462.9 347.1C465.9 346.1 468.8 345.2 471.8 344.6C474.8 344.0 477.7 343.7 480.7 343.6C483.7 343.6 486.6 343.9 489.6 344.3C492.6 344.8 495.6 345.7 498.6 346.3C501.6 346.9 504.5 347.4 507.5 347.7C510.5 348.0 513.4 348.1 516.4 348.0C519.4 347.9 522.4 347.5 525.4 347.1C528.4 346.7 531.8 346.0 534.3 345.5C536.8 345.0 539.5 344.3 540.5 344.1" fill="none" stroke="#0000ff" stroke-width="2" stroke-linejoin="miter"/>
<text x="396.50" y="389.20" font-size="13.10" text-anchor="middle" fill="#262626">Frequency (THz)</text>
<text transform="translate(227.6 245.4) rotate(-90)" font-size="13.2" text-anchor="middle" fill="#262626">Reflection (a.u.)</text>
<text x="209.60" y="135.50" font-size="22.00" text-anchor="start" fill="#000">(c)</text>
<line x1="362.3" x2="395.9" y1="256.1" y2="256.1" stroke="#00ff00" stroke-width="1.9"/>
<text x="402.00" y="260.10" font-size="12.00" text-anchor="start" fill="#000">Total</text>
<line x1="362.3" x2="395.9" y1="269.0" y2="269.0" stroke="#0000ff" stroke-width="1.9" stroke-dasharray="8 4.2"/>
<text x="402" y="273.0" font-size="12"><tspan font-style="italic">m</tspan> = -2</text>
<line x1="362.3" x2="395.9" y1="281.9" y2="281.9" stroke="#ff0000" stroke-width="1.9" stroke-dasharray="8 4.2"/>
<text x="402" y="285.9" font-size="12"><tspan font-style="italic">m</tspan> = -1</text>
<line x1="362.3" x2="395.9" y1="294.8" y2="294.8" stroke="#000000" stroke-width="1.9"/>
<text x="402" y="298.8" font-size="12"><tspan font-style="italic">m</tspan> = 0</text>
<line x1="362.3" x2="395.9" y1="307.7" y2="307.7" stroke="#ff0000" stroke-width="1.9"/>
<text x="402" y="311.7" font-size="12"><tspan font-style="italic">m</tspan> = +1</text>
<line x1="362.3" x2="395.9" y1="320.6" y2="320.6" stroke="#0000ff" stroke-width="1.9"/>
<text x="402" y="324.6" font-size="12"><tspan font-style="italic">m</tspan> = +2</text>
<rect x="252.6" y="425.6" width="288.0" height="224.0" fill="none" stroke="#262626" stroke-width="0.9"/>
<text x="252.60" y="665.00" font-size="13.40" text-anchor="middle" fill="#262626">0.5</text>
<path d="M300.6 649.6v-3.6M300.6 425.6v3.6" stroke="#262626" stroke-width="0.9"/>
<text x="300.60" y="665.00" font-size="13.40" text-anchor="middle" fill="#262626">0.6</text>
<path d="M348.6 649.6v-3.6M348.6 425.6v3.6" stroke="#262626" stroke-width="0.9"/>
<text x="348.60" y="665.00" font-size="13.40" text-anchor="middle" fill="#262626">0.7</text>
<path d="M396.6 649.6v-3.6M396.6 425.6v3.6" stroke="#262626" stroke-width="0.9"/>
<text x="396.60" y="665.00" font-size="13.40" text-anchor="middle" fill="#262626">0.8</text>
<path d="M444.6 649.6v-3.6M444.6 425.6v3.6" stroke="#262626" stroke-width="0.9"/>
<text x="444.60" y="665.00" font-size="13.40" text-anchor="middle" fill="#262626">0.9</text>
<path d="M492.6 649.6v-3.6M492.6 425.6v3.6" stroke="#262626" stroke-width="0.9"/>
<text x="492.60" y="665.00" font-size="13.40" text-anchor="middle" fill="#262626">1</text>
<text x="540.60" y="665.00" font-size="13.40" text-anchor="middle" fill="#262626">1.1</text>
<text x="249.00" y="654.10" font-size="13.40" text-anchor="end" fill="#262626">0</text>
<path d="M252.6 604.8h3.6M540.6 604.8h-3.6" stroke="#262626" stroke-width="0.9"/>
<text x="249.00" y="609.30" font-size="13.40" text-anchor="end" fill="#262626">0.2</text>
<path d="M252.6 560.0h3.6M540.6 560.0h-3.6" stroke="#262626" stroke-width="0.9"/>
<text x="249.00" y="564.50" font-size="13.40" text-anchor="end" fill="#262626">0.4</text>
<path d="M252.6 515.2h3.6M540.6 515.2h-3.6" stroke="#262626" stroke-width="0.9"/>
<text x="249.00" y="519.70" font-size="13.40" text-anchor="end" fill="#262626">0.6</text>
<path d="M252.6 470.4h3.6M540.6 470.4h-3.6" stroke="#262626" stroke-width="0.9"/>
<text x="249.00" y="474.90" font-size="13.40" text-anchor="end" fill="#262626">0.8</text>
<text x="249.00" y="430.10" font-size="13.40" text-anchor="end" fill="#262626">1</text>
<path d="M252.5 521.8C253.3 520.0 255.1 514.7 257.1 511.1C259.1 507.5 261.9 503.4 264.3 500.4C266.7 497.4 269.0 495.0 271.4 493.2C273.8 491.4 276.2 490.3 278.6 489.3C281.0 488.3 283.3 487.6 285.7 487.0C288.1 486.4 290.4 486.1 292.9 485.9C295.4 485.6 297.8 485.4 300.5 485.5C303.2 485.6 306.0 485.9 308.9 486.4C311.8 486.9 314.9 487.8 317.9 488.8C320.9 489.7 323.8 490.9 326.8 492.0C329.8 493.1 333.0 494.4 335.7 495.4C338.4 496.4 340.5 497.1 342.9 498.0C345.3 498.9 347.3 499.8 350.0 500.7C352.7 501.6 356.3 502.8 359.3 503.4C362.3 504.0 365.2 504.5 368.2 504.5C371.2 504.5 374.1 504.2 377.1 503.6C380.1 503.0 383.1 501.8 386.1 500.9C389.1 500.0 392.0 499.0 395.0 498.2C398.0 497.4 400.9 496.7 403.9 496.2C406.9 495.8 409.9 495.6 412.9 495.5C415.9 495.4 418.8 495.6 421.8 495.9C424.8 496.2 428.0 496.8 430.7 497.3C433.4 497.8 435.5 498.3 437.9 498.9C440.3 499.5 442.6 500.4 445.0 500.9C447.4 501.4 449.7 501.8 452.1 501.8C454.5 501.8 456.6 501.4 459.3 500.7C462.0 500.0 465.2 498.9 468.2 497.7C471.2 496.5 474.1 494.9 477.1 493.6C480.1 492.3 483.1 491.1 486.1 490.0C489.1 488.9 492.0 488.1 495.0 487.3C498.0 486.6 500.9 485.9 503.9 485.5C506.9 485.1 509.9 485.1 512.9 484.8C515.9 484.5 518.8 484.3 521.8 483.9C524.8 483.4 527.6 482.8 530.7 482.1C533.8 481.4 538.9 480.2 540.5 479.8" fill="none" stroke="#00ff00" stroke-width="2" stroke-linejoin="miter"/>
<path d="M404.0 649.6C405.2 649.5 408.3 649.3 411.0 649.0C413.7 648.7 417.0 648.4 420.0 648.0C423.0 647.6 425.9 647.0 428.9 646.6C431.9 646.2 435.2 645.9 437.9 645.7C440.6 645.6 442.0 645.3 445.0 645.7C448.0 646.1 451.8 647.4 455.7 647.9C459.6 648.4 464.0 648.6 468.2 648.8C472.4 648.9 476.2 648.9 480.7 648.8C485.2 648.6 490.5 648.4 495.0 648.0C499.5 647.6 503.3 647.3 507.5 646.6C511.7 645.9 516.1 644.9 520.0 643.9C523.9 642.9 527.3 641.7 530.7 640.7C534.1 639.7 538.9 638.2 540.5 637.7" fill="none" stroke="#0000ff" stroke-width="2" stroke-linejoin="miter" stroke-dasharray="8 4.2"/>
<path d="M252.5 618.0C253.9 618.4 257.6 619.5 260.7 620.4C263.8 621.3 267.8 622.5 271.4 623.4C275.0 624.2 278.5 625.0 282.1 625.5C285.7 626.0 289.3 626.2 292.9 626.4C296.5 626.5 300.0 626.4 303.6 626.4C307.2 626.4 310.7 626.2 314.3 626.1C317.9 626.0 321.4 625.7 325.0 625.7C328.6 625.8 332.4 626.0 335.7 626.4C339.0 626.8 342.2 627.4 344.6 627.9C347.0 628.4 347.6 628.4 350.0 629.3C352.4 630.2 356.3 631.8 359.3 633.2C362.3 634.6 365.2 636.3 368.2 637.7C371.2 639.1 374.1 640.5 377.1 641.8C380.1 643.1 383.1 644.4 386.1 645.4C389.1 646.4 392.0 647.3 395.0 647.9C398.0 648.5 400.3 648.7 403.9 648.9C407.5 649.1 411.9 649.3 416.4 649.3C420.9 649.3 425.9 649.0 430.7 648.9C435.5 648.8 439.6 648.7 445.0 648.8C450.4 648.8 456.9 649.2 462.9 649.3C468.8 649.4 474.8 649.4 480.7 649.3C486.6 649.2 493.2 648.9 498.6 648.6C504.0 648.3 508.4 648.0 512.9 647.5C517.4 647.0 521.8 646.3 525.4 645.7C529.0 645.1 531.8 644.5 534.3 643.9C536.8 643.3 539.5 642.4 540.5 642.1" fill="none" stroke="#ff0000" stroke-width="2" stroke-linejoin="miter" stroke-dasharray="8 4.2"/>
<path d="M252.5 604.6C253.3 602.5 255.1 595.9 257.1 592.1C259.1 588.3 261.9 584.5 264.3 581.8C266.7 579.1 268.7 577.3 271.4 575.7C274.1 574.1 277.3 572.8 280.4 572.0C283.5 571.2 286.9 570.6 290.2 570.7C293.5 570.8 296.9 571.5 300.0 572.5C303.1 573.5 306.2 575.5 308.9 577.0C311.6 578.5 313.4 579.6 316.1 581.8C318.8 584.0 322.0 587.3 325.0 590.4C328.0 593.5 330.9 596.6 333.9 600.2C336.9 603.8 340.2 608.2 342.9 611.8C345.6 615.4 348.5 619.5 350.0 621.6C351.5 623.7 350.6 622.4 352.1 624.3C353.7 626.2 356.9 630.5 359.3 633.2C361.7 635.9 364.0 638.5 366.4 640.4C368.8 642.3 371.2 643.6 373.6 644.8C376.0 646.0 378.3 646.9 380.7 647.5C383.1 648.1 385.8 648.4 387.9 648.6C390.0 648.8 391.4 648.7 393.2 648.6C395.0 648.5 396.5 648.3 398.6 648.0C400.7 647.7 403.3 647.3 405.7 647.0C408.1 646.7 410.2 646.4 412.9 646.1C415.6 645.8 418.8 645.8 421.8 645.4C424.8 645.0 428.0 644.3 430.7 643.6C433.4 642.9 435.5 642.1 437.9 641.2C440.3 640.4 442.3 639.8 445.0 638.6C447.7 637.4 450.9 636.0 453.9 634.1C456.9 632.2 459.6 630.0 462.9 627.0C466.2 624.0 470.0 619.8 473.6 616.2C477.2 612.7 480.7 608.8 484.3 605.5C487.9 602.2 491.4 599.4 495.0 596.6C498.6 593.8 502.1 590.8 505.7 588.6C509.3 586.4 513.1 584.6 516.4 583.2C519.7 581.9 522.4 581.1 525.4 580.5C528.4 579.9 531.8 579.6 534.3 579.3C536.8 579.0 539.5 578.8 540.5 578.8" fill="none" stroke="#000000" stroke-width="2" stroke-linejoin="miter"/>
<path d="M252.5 598.9C253.9 598.7 257.6 598.2 260.7 597.5C263.8 596.8 267.2 596.0 271.4 594.8C275.6 593.6 280.9 591.8 285.7 590.4C290.5 589.0 295.8 587.5 300.0 586.2C304.2 585.0 308.0 584.0 310.7 583.2C313.4 582.4 313.7 582.6 316.1 581.4C318.5 580.2 322.0 578.3 325.0 576.1C328.0 573.9 330.9 570.8 333.9 568.0C336.9 565.2 340.2 561.9 342.9 559.1C345.6 556.3 348.2 553.2 350.0 551.1C351.8 549.0 351.8 549.3 353.9 546.6C356.0 543.9 359.9 538.7 362.9 535.0C365.9 531.3 368.8 527.8 371.8 524.5C374.8 521.2 377.7 518.1 380.7 515.5C383.7 512.9 386.6 510.7 389.6 508.8C392.6 506.8 395.9 505.0 398.6 503.9C401.3 502.8 403.6 502.2 405.7 502.1C407.8 502.0 409.3 502.2 411.1 503.0C412.9 503.8 414.3 505.1 416.4 506.6C418.5 508.1 421.2 510.2 423.6 512.0C426.0 513.8 428.3 515.5 430.7 517.3C433.1 519.1 435.5 521.1 437.9 523.0C440.3 524.9 442.3 526.4 445.0 528.4C447.7 530.4 450.9 533.0 453.9 535.0C456.9 537.0 459.6 538.5 462.9 540.4C466.2 542.3 470.0 544.5 473.6 546.6C477.2 548.7 480.7 550.7 484.3 552.9C487.9 555.1 491.4 557.5 495.0 560.0C498.6 562.5 502.1 565.3 505.7 568.0C509.3 570.7 513.1 574.0 516.4 576.1C519.7 578.2 522.4 579.5 525.4 580.5C528.4 581.5 531.8 581.9 534.3 582.3C536.8 582.7 539.5 582.8 540.5 582.9" fill="none" stroke="#ff0000" stroke-width="2" stroke-linejoin="miter"/>
<path d="M252.5 649.6C277.1 649.6 373.6 649.7 400.0 649.6C426.4 649.5 407.8 649.5 411.1 648.9C414.4 648.2 417.0 646.7 420.0 645.7C423.0 644.7 425.9 643.8 428.9 642.9C431.9 642.0 435.2 641.2 437.9 640.4C440.6 639.6 442.3 639.0 445.0 638.2C447.7 637.4 450.9 636.1 453.9 635.4C456.9 634.7 459.6 634.4 462.9 634.1C466.2 633.8 470.0 633.8 473.6 633.6C477.2 633.5 480.7 633.3 484.3 633.2C487.9 633.1 491.4 633.0 495.0 632.9C498.6 632.8 502.1 632.8 505.7 632.9C509.3 633.0 513.1 633.3 516.4 633.8C519.7 634.2 522.4 634.8 525.4 635.4C528.4 636.0 531.8 636.6 534.3 637.1C536.8 637.6 539.5 638.0 540.5 638.2" fill="none" stroke="#0000ff" stroke-width="2" stroke-linejoin="miter"/>
<text x="396.50" y="681.40" font-size="13.10" text-anchor="middle" fill="#262626">Frequency (THz)</text>
<text transform="translate(227.6 537.6) rotate(-90)" font-size="13.2" text-anchor="middle" fill="#262626">Reflection (a.u.)</text>
<text x="209.60" y="427.70" font-size="22.00" text-anchor="start" fill="#000">(e)</text>
<line x1="362.3" x2="395.9" y1="548.0" y2="548.0" stroke="#00ff00" stroke-width="1.9"/>
<text x="402.00" y="552.00" font-size="12.00" text-anchor="start" fill="#000">Total</text>
<line x1="362.3" x2="395.9" y1="560.9" y2="560.9" stroke="#0000ff" stroke-width="1.9" stroke-dasharray="8 4.2"/>
<text x="402" y="564.9" font-size="12"><tspan font-style="italic">m</tspan> = -2</text>
<line x1="362.3" x2="395.9" y1="573.8" y2="573.8" stroke="#ff0000" stroke-width="1.9" stroke-dasharray="8 4.2"/>
<text x="402" y="577.8" font-size="12"><tspan font-style="italic">m</tspan> = -1</text>
<line x1="362.3" x2="395.9" y1="586.7" y2="586.7" stroke="#000000" stroke-width="1.9"/>
<text x="402" y="590.7" font-size="12"><tspan font-style="italic">m</tspan> = 0</text>
<line x1="362.3" x2="395.9" y1="599.6" y2="599.6" stroke="#ff0000" stroke-width="1.9"/>
<text x="402" y="603.6" font-size="12"><tspan font-style="italic">m</tspan> = +1</text>
<line x1="362.3" x2="395.9" y1="612.5" y2="612.5" stroke="#0000ff" stroke-width="1.9"/>
<text x="402" y="616.5" font-size="12"><tspan font-style="italic">m</tspan> = +2</text></svg></body></html>
